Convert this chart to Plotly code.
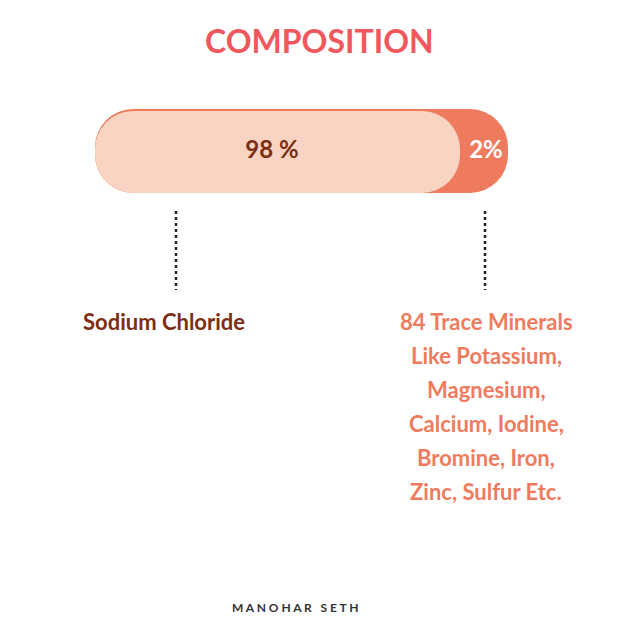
import plotly.graph_objects as go

# Data
shares = ["98 %", "2%"]
left_label = "Sodium Chloride"
right_lines = ["84 Trace Minerals", "Like Potassium,", "Magnesium,",
               "Calcium, Iodine,", "Bromine, Iron,", "Zinc, Sulfur Etc."]
bar_start = 95
bar_lengths = [365, 413]   # drawn length of the light and the dark bar
bar_colors = ["#f9d4c2", "#ef7b5e"]

fig = go.Figure()

# dark bar behind, light bar on top
fig.add_trace(go.Bar(y=[151], x=[bar_lengths[1]], base=bar_start, orientation="h", width=84,
                     marker=dict(color=bar_colors[1], cornerradius=38, line=dict(width=0)),
                     hoverinfo="skip"))
fig.add_trace(go.Bar(y=[152], x=[bar_lengths[0]], base=bar_start, orientation="h", width=82,
                     marker=dict(color=bar_colors[0], cornerradius=38, line=dict(width=0)),
                     hoverinfo="skip"))

fig.add_trace(go.Scatter(x=[272, 486], y=[152, 152], mode="text",
                         text=["<b>%s</b>" % s for s in shares],
                         textfont=dict(size=24, color=["#7a2e12", "white"], family="Lato"),
                         hoverinfo="skip"))

# dotted leader lines
for x in [176, 485]:
    fig.add_trace(go.Scatter(x=[x, x], y=[211, 290], mode="lines",
                             line=dict(color="#222222", width=2.5, dash="dot"), hoverinfo="skip"))

fig.add_annotation(x=164, y=321, text="<b>%s</b>" % left_label, showarrow=False,
                   font=dict(size=22, color="#7a2e12", family="Lato"))
for i, line in enumerate(right_lines):
    fig.add_annotation(x=486, y=321 + i * 34, text="<b>%s</b>" % line, showarrow=False,
                       font=dict(size=22, color="#ef7b5e", family="Lato"))

fig.add_annotation(x=319, y=40, text="<b>COMPOSITION</b>", showarrow=False,
                   font=dict(size=32, color="#f0585e", family="Lato"))
fig.add_annotation(x=295, y=607, text="<b>M A N O H A R   S E T H</b>", showarrow=False,
                   font=dict(size=12, color="#333333", family="Lato"))

fig.update_layout(
    width=638, height=638, margin=dict(l=0, r=0, t=0, b=0),
    barmode="overlay", showlegend=False,
    plot_bgcolor="white", paper_bgcolor="white",
    xaxis=dict(range=[8, 646], visible=False),
    yaxis=dict(range=[646, 8], visible=False),
)

fig.write_html("out.html")
